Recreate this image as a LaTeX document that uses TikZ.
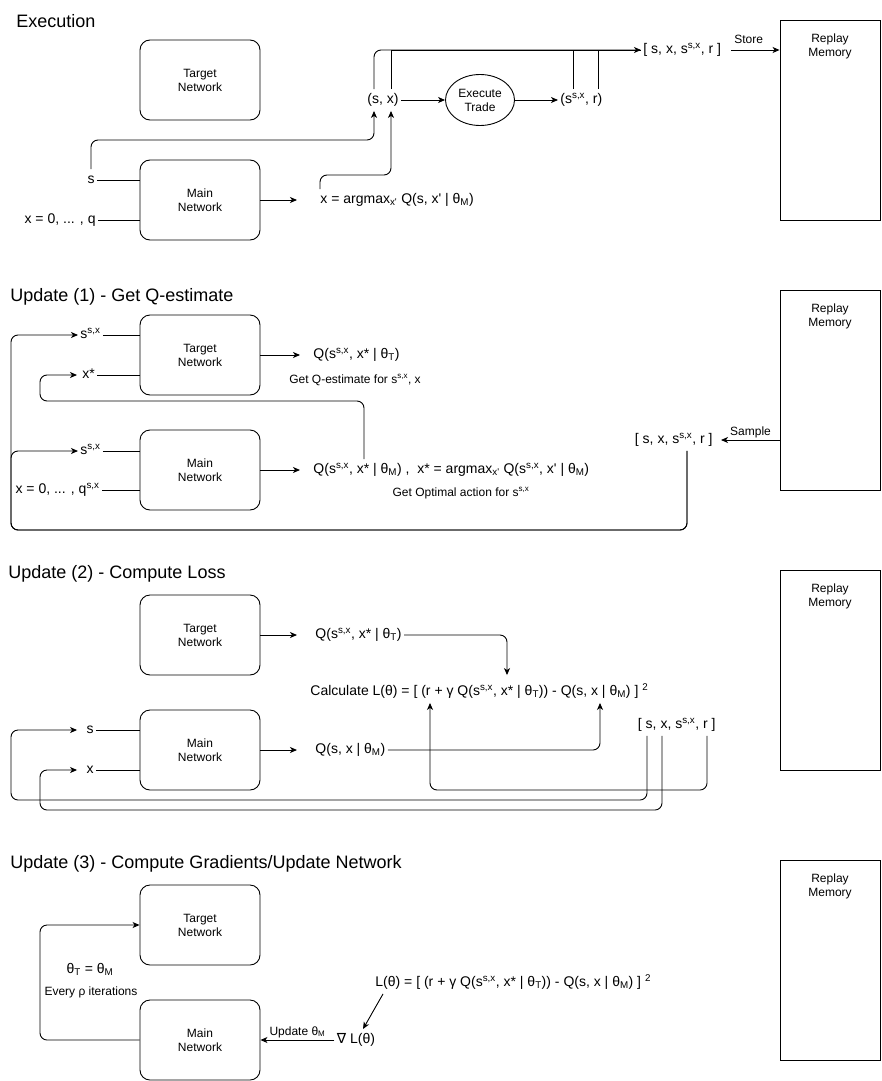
\documentclass[tikz,border=0pt]{standalone}
\usepackage{fontspec}
\setmainfont{Liberation Sans}
\newfontfamily\djv{DejaVu Sans}
\usetikzlibrary{shapes.geometric,arrows.meta,positioning}

\newcommand{\ssx}{s\textsuperscript{s,x}}
\newcommand{\thM}{θ\textsubscript{M}}
\newcommand{\thT}{θ\textsubscript{T}}

\tikzset{
  net/.style={draw, rounded corners=10pt, minimum width=120pt, minimum height=80pt, align=center, font=\fontsize{12}{14}\selectfont},
  mem/.style={draw, minimum width=100pt, minimum height=200pt},
  lbl/.style={font=\fontsize{14}{17}\selectfont, text height=10pt, text depth=3pt, inner xsep=2pt, inner ysep=4pt},
  smalltxt/.style={font=\fontsize{12}{14}\selectfont, align=center, inner sep=2pt},
  ttl/.style={font=\fontsize{18}{21}\selectfont, anchor=base west, inner sep=0pt},
  conn/.style={-{Stealth[length=7pt, width=6pt, inset=2pt]}},
  elbow/.style={rounded corners=7pt},
}

\begin{document}
\begin{tikzpicture}[x=1pt, y=-1pt, line width=0.9pt]
    \useasboundingbox (0,0) rectangle (882,1081);

    % Execution
    \node[ttl] (t1) at (16,28) {Execution};
    \node[net] (tn1) at (200,80) {Target\\Network};
    \node[net] (mn1) at (200,200) {Main\\Network};
    \node[mem] (rm1) at (830,120) {};
    \node[smalltxt, below=12pt of rm1.north] (rl1) {Replay\\Memory};

    % Inputs and chosen action
    \node[lbl] (s1) at (91,180) {s};
    \node[lbl, anchor=east] (q1) at (98,220) {x = 0, ... , q};
    \draw (s1) -- (s1 -| mn1.west);
    \draw (q1) -- (q1 -| mn1.west);
    \node[lbl, anchor=west] (am1) at (318,200) {x = argmax\textsubscript{x\textquotesingle} Q(s, x\textquotesingle{} | \thM)};
    \draw[conn, shorten >=21pt] (mn1) -- (am1.west);

    % Trade
    \node[lbl] (sx1) at (383,100) {(s, x)};
    \node[draw, ellipse, smalltxt, minimum width=69pt, minimum height=51pt] (ex1) at (480,100) {Execute\\Trade};
    \node[lbl, anchor=west] (nr1) at (558,100) {(\ssx, r)};
    \node[lbl, anchor=west] (st1) at (641,50) {[ s, x, \ssx, r ]};
    \draw[conn, elbow] (s1.north) |- (374,140) -- ([xshift=-9pt]sx1.south);
    \draw[conn, elbow] ([xshift=2pt]am1.north west) |- (391,175) -- ([xshift=8pt]sx1.south);
    \draw[conn] (sx1) -- (ex1);
    \draw[conn] (ex1) -- (nr1);

    % Store transition
    \draw[conn, elbow] ([xshift=-9pt]sx1.north) |- (st1.west);
    \draw ([xshift=8pt]sx1.north) |- (st1.west);
    \draw ([xshift=15pt]nr1.north west) |- (st1.west);
    \draw ([xshift=40pt]nr1.north west) |- (st1.west);
    \draw[conn, shorten <=8pt] (st1.east) -- (st1.east -| rm1.west) node[smalltxt, above=4pt, pos=0.45] (sl1) {Store};

    % Update (1)
    \node[ttl] (t2) at (10,301) {Update (1) - Get Q-estimate};
    \node[net] (tn2) at (200,355) {Target\\Network};
    \node[net] (mn2) at (200,470) {Main\\Network};
    \node[mem] (rm2) at (830,390) {};
    \node[smalltxt, below=12pt of rm2.north] (rl2) {Replay\\Memory};

    \node[lbl, anchor=west] (ss2) at (78,335) {\ssx};
    \node[lbl, anchor=west] (xs2) at (80,375) {x*};
    \node[lbl, anchor=west] (sm2) at (78,451) {\ssx};
    \node[lbl, anchor=east] (q2) at (102,490) {x = 0, ... , q\textsuperscript{s,x}};
    \draw (ss2) -- (ss2 -| tn2.west);
    \draw (xs2) -- (xs2 -| tn2.west);
    \draw (sm2) -- (sm2 -| mn2.west);
    \draw (q2) -- (q2 -| mn2.west);

    \node[lbl, anchor=west] (qt2) at (311,355) {Q(\ssx, x* | \thT)};
    \node[smalltxt] (gq2) at (355,380) {Get Q-estimate for \ssx, x};
    \node[lbl, anchor=west] (qm2) at (311,470) {Q(\ssx, x* | \thM) ,\ \ x* = argmax\textsubscript{x\textquotesingle} Q(\ssx, x\textquotesingle{} | \thM)};
    \node[smalltxt] (go2) at (461,493) {Get Optimal action for \ssx};
    \node[lbl, anchor=east] (st2) at (715,440) {[ s, x, \ssx, r ]};
    \draw[conn, shorten >=11pt] (tn2) -- (qt2.west);
    \draw[conn, shorten >=11pt] (mn2) -- (qm2.west);
    \draw[conn, shorten >=3pt, elbow] ([xshift=53pt]qm2.north west) |- (40,401) |- (xs2.west);
    \draw[conn, elbow] ([xshift=-28pt]st2.south east) |- (11,530) |- (ss2.west);
    \draw[conn, elbow] ([xshift=-28pt]st2.south east) |- (11,530) |- (sm2.west);
    \draw[conn, shorten >=6pt] (st2.east -| rm2.west) -- (st2.east) node[smalltxt, above, pos=0.45] (sp2) {Sample};

    % Update (2)
    \node[ttl] (t3) at (8,578) {Update (2) - Compute Loss};
    \node[net] (tn3) at (200,635) {Target\\Network};
    \node[net] (mn3) at (200,750) {Main\\Network};
    \node[mem] (rm3) at (830,670) {};
    \node[smalltxt, below=12pt of rm3.north] (rl3) {Replay\\Memory};

    \node[lbl] (s3) at (90,730) {s};
    \node[lbl] (x3) at (90,770) {x};
    \draw (s3) -- (s3 -| mn3.west);
    \draw (x3) -- (x3 -| mn3.west);
    \node[lbl, anchor=west] (qt3) at (313,635) {Q(\ssx, x* | \thT)};
    \node[lbl, anchor=west] (qm3) at (313,750) {Q(s, x | \thM)};
    \node[lbl, anchor=west] (cl3) at (308,692) {Calculate L(θ) = [ (r + γ Q(\ssx, x* | \thT)) - Q(s, x | \thM) ] \textsuperscript{2}};
    \node[lbl, anchor=east] (st3) at (718,725) {[ s, x, \ssx, r ]};
    \draw[conn, shorten >=16pt] (tn3) -- (qt3.west);
    \draw[conn, shorten >=16pt] (mn3) -- (qm3.west);
    \draw[conn, elbow, shorten >=6pt] (qt3.east) -| ([xshift=199pt]cl3.north west);
    \draw[conn, elbow] (qm3.east) -| ([xshift=292pt]cl3.south west);
    \draw[conn, elbow] ([xshift=-11pt]st3.south east) |- (430,790) -- ([xshift=122pt]cl3.south west);
    \draw[conn, elbow, shorten >=7pt] ([xshift=-71pt]st3.south east) |- (11,800) |- (s3.west);
    \draw[conn, elbow, shorten >=7pt] ([xshift=-56pt]st3.south east) |- (40,810) |- (x3.west);

    % Update (3)
    \node[ttl] (t4) at (10,868) {Update (3) - Compute Gradients/Update Network};
    \node[net] (tn4) at (200,925) {Target\\Network};
    \node[net] (mn4) at (200,1040) {Main\\Network};
    \node[mem] (rm4) at (830,960) {};
    \node[smalltxt, below=12pt of rm4.north] (rl4) {Replay\\Memory};

    \node[lbl] (eq4) at (90,970) {\thT{} = \thM};
    \node[smalltxt] (ev4) at (91,992) {Every ρ iterations};
    \node[lbl, anchor=west] (lf4) at (373,983) {L(θ) = [ (r + γ Q(\ssx, x* | \thT)) - Q(s, x | \thM) ] \textsuperscript{2}};
    \node[lbl] (gl4) at (356,1040) {{\djv ∇} L(θ)};
    \draw[conn, elbow] (mn4.west) -| (40,925) -- (tn4.west);
    \draw[conn] ([xshift=10pt]lf4.south west) -- ([xshift=7pt]gl4.north);
    \draw[conn] (gl4) -- (gl4 -| mn4.east) node[smalltxt, above, midway] (up4) {Update \thM};
\end{tikzpicture}
\end{document}
